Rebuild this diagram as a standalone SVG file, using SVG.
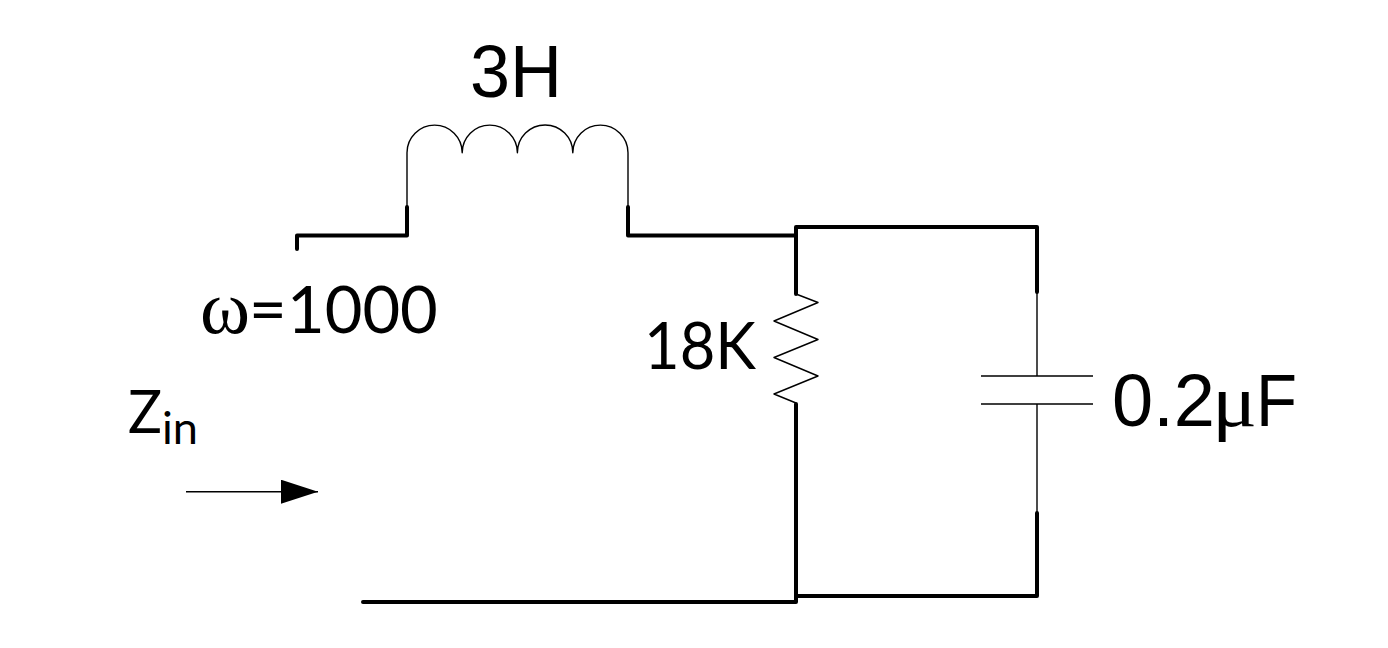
<svg xmlns="http://www.w3.org/2000/svg" width="1388" height="648" viewBox="0 0 1388 648">
<style>
.w{fill:none;stroke:#000;stroke-width:4;stroke-linecap:round;stroke-linejoin:round}
.t{fill:none;stroke:#000;stroke-width:1.4;stroke-linejoin:round}
text{fill:#000}
.a{font-family:"Liberation Sans",Arial,sans-serif}
.c{font-family:Lato,"Open Sans",sans-serif}
.s{font-family:"Liberation Serif",serif}
</style>
<defs><marker id="ah" markerUnits="userSpaceOnUse" markerWidth="37" markerHeight="24" refX="37" refY="12" orient="auto"><path d="M0 0L37 12L0 24Z" fill="#000"/></marker></defs>
<rect width="1388" height="648" fill="#fff"/>
<g id="connectors">
<path class="w" d="M297 249V235.500H407V207"/>
<path class="w" d="M628 207V235.500H795"/>
<path class="w" d="M796 294V227H1037V292"/>
<path class="w" d="M1037 513V596H796"/>
<path class="w" d="M796 404V602H363"/>
<path class="t" d="M186 491.700H318" marker-end="url(#ah)"/>
</g>
<g id="inductor"><path class="t" d="M407 207V152.700A27.600 27.600 0 0 1 462.200 152.700A27.600 27.600 0 0 1 517.400 152.700A27.600 27.600 0 0 1 572.800 152.700A27.600 27.600 0 0 1 628 152.700V207"/><text class="a" x="470" y="97" font-size="74" textLength="92" lengthAdjust="spacingAndGlyphs">3H</text></g>
<g id="resistor"><path class="t" d="M796 294L818 302.500L774 321L818 339.500L774 357.500L818 376L774 394L796 403"/><text class="c" x="644" y="369" font-size="65" textLength="112" lengthAdjust="spacingAndGlyphs">18K</text></g>
<g id="capacitor"><path class="t" d="M1037 292V376M1037 404V513M981 376H1093M981 404H1093"/><text x="1112" y="426" font-size="74" class="a">0.2</text><text x="1212" y="426" font-size="74" class="s" textLength="45" lengthAdjust="spacingAndGlyphs">μ</text><text x="1256" y="426" font-size="74" class="a" textLength="41" lengthAdjust="spacingAndGlyphs">F</text></g>
<g id="source"><text x="200" y="333" font-size="76" class="s">ω</text><text class="c" x="249" y="333" font-size="65">=</text><text class="c" x="287" y="333" font-size="65">1000</text></g>
<g id="zin"><text class="c" x="128" y="433" font-size="60" textLength="34" lengthAdjust="spacingAndGlyphs">Z</text><text class="c" x="162" y="444" font-size="44" textLength="36" lengthAdjust="spacingAndGlyphs">in</text></g>
</svg>
